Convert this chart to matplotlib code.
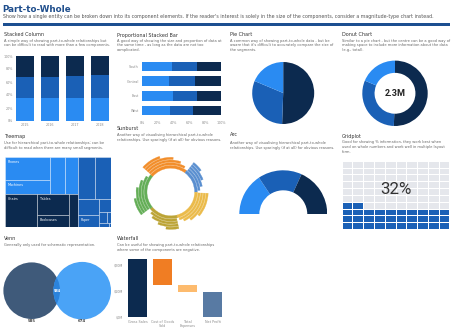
import matplotlib
matplotlib.use('Agg')
import matplotlib.pyplot as plt
import numpy as np
from matplotlib.patches import Wedge, Rectangle, Circle
from matplotlib.colors import ListedColormap

W, H = 474, 329

# ---------------- data ----------------
years = ['2015', '2016', '2017', '2018']
col_light = [36, 35, 36, 36]
col_mid = [31, 33, 34, 35]
col_dark = [33, 32, 30, 29]
pct_ticks = [0, 20, 40, 60, 80, 100]

regions = ['South', 'Central', 'East', 'West']
bar_light = [38, 34, 39, 35]
bar_mid = [32, 33, 30, 30]
bar_dark = [30, 33, 31, 35]

segments = ['Consumer', 'Corporate', 'Home Office']
segment_sales = [1161, 706, 429]
donut_label = '2.3M'

tech_sub = ['Phones', 'Machines', 'Accessories', 'Copiers']
tech_vals = [330, 189, 167, 150]
furn_sub = ['Chairs', 'Tables', 'Bookcases', 'Furnishings']
furn_vals = [328, 207, 115, 92]
office_sub = ['Storage', 'Binders', 'Appliances', 'Paper', 'Supplies', 'Art',
              'Envelopes', 'Labels', 'Fasteners']
office_vals = [224, 203, 107, 78, 47, 27, 16, 12, 3]
treemap_shown = ['Phones', 'Machines', 'Chairs', 'Tables', 'Bookcases', 'Paper']

sun_values = [24, 15, 21, 18, 22]
sun_level1 = [22, 14, 20, 16, 20]
sun_level2 = [19, 12, 18, 14, 17]
sun_level3 = [15, 9, 15, 10, 13]
sun_level4 = [9, 5, 11, 6, 8]

arc_labels = ['Office Supplies', 'Furniture', 'Technology']
arc_vals = [719, 742, 836]

grid_pct = 32

venn_a, venn_b, venn_ab = 585, 674, 584

wf_labels = ['Gross Sales', 'Cost of Goods\nSold', 'Total\nExpenses', 'Net Profit']
wf_steps = [22.3, -10.0, -2.6]
wf_ticks = [0, 10, 20]

SUBTITLE = ("Show how a single entity can be broken down into its component elements. "
            "If the reader's interest is solely in the size of the components, consider a "
            "magnitude-type chart instead.")

# ---------------- styles ----------------
LIGHT = '#2a8bf2'
MID = '#1a60b6'
DARK = '#0c2a4f'
TXT = '#333333'
DESC = '#666666'
TICK = '#8a8a8a'

fig = plt.figure(figsize=(W / 100, H / 100), dpi=100)
fig.patch.set_facecolor('white')
renderer = fig.canvas.get_renderer()


def fit_size(s, target_px, base=5.0, **kw):
    t = fig.text(0, 0, s, fontsize=base, **kw)
    w = t.get_window_extent(renderer).width
    t.remove()
    return base * target_px / w


TITLE_SIZE = fit_size('Part-to-Whole', 69, fontweight='bold')
SUB_SIZE = fit_size(SUBTITLE, 435)
SEC_SIZE = fit_size('Proportional Stacked Bar', 61)
DESC_SIZE = fit_size('A common way of showing part-to-whole data - but be', 101)
TICK_SIZE = fit_size('Gross Sales', 20)
TREE_SIZE = fit_size('Bookcases', 18)
DONUT_SIZE = fit_size(donut_label, 21, fontweight='bold', family='Roboto')
GRID_SIZE = fit_size('32%', 31.5, family='Roboto')
VENN_SIZE = fit_size('585', 8, fontweight='bold')


def ftext(x, y, s, size, color=TXT, weight='normal', ha='left', va='center', family=None):
    kw = {}
    if family:
        kw['family'] = family
    fig.text(x / W, 1 - y / H, s, fontsize=size, color=color, fontweight=weight,
             ha=ha, va=va, **kw)


def pax(x0, y0, x1, y1):
    return fig.add_axes([x0 / W, 1 - y1 / H, (x1 - x0) / W, (y1 - y0) / H])


def section(x, y_title, title, lines, y_desc, spacing):
    ftext(x, y_title, title, SEC_SIZE, color=TXT)
    for i, ln in enumerate(lines):
        ftext(x, y_desc + i * spacing, ln, DESC_SIZE, color=DESC)


# ---------------- header ----------------
ftext(2.7, 10, 'Part-to-Whole', TITLE_SIZE, color='#1f4e8c', weight='bold')
ftext(3, 16.3, SUBTITLE, SUB_SIZE, color='#555555')
fig.add_artist(Rectangle((3 / W, 1 - 26 / H), 447 / W, 3 / H, transform=fig.transFigure,
                         facecolor='#1d4f91', edgecolor='none'))

# ---------------- section texts ----------------
section(4, 35, 'Stacked Column',
        ['A simple way of showing part-to-whole relationships but',
         'can be difficult to read with more than a few components.'], 41.2, 4.2)
section(117, 35, 'Proportional Stacked Bar',
        ['A good way of showing the size and proportion of data at',
         'the same time - as long as the data are not too',
         'complicated.'], 41.2, 4.2)
section(230, 35, 'Pie Chart',
        ['A common way of showing part-to-whole data - but be',
         "aware that it's difficult to accurately compare the size of",
         'the segments.'], 41.2, 4.2)
section(342, 35, 'Donut Chart',
        ['Similar to a pie chart - but the centre can be a good way of',
         'making space to include more information about the data',
         '(e.g., total).'], 41.2, 4.2)
section(4, 137, 'Treemap',
        ['Use for hierarchical part-to-whole relationships; can be',
         'difficult to read when there are many small segments.'], 143, 5.4)
section(117, 128.5, 'Sunburst',
        ['Another way of visualising hierarchical part-to-whole',
         'relationships. Use sparingly (if at all) for obvious reasons.'], 134.7, 5.0)
section(230, 134.5, 'Arc',
        ['Another way of visualising hierarchical part-to-whole',
         'relationships. Use sparingly (if at all) for obvious reasons.'], 142.6, 5.0)
section(342, 136.5, 'Gridplot',
        ['Good for showing % information, they work best when',
         'used on whole numbers and work well in multiple layout',
         'form.'], 142.4, 5.0)
section(4, 238, 'Venn',
        ['Generally only used for schematic representation.'], 244.8, 4.5)
section(117, 238, 'Waterfall',
        ['Can be useful for showing part-to-whole relationships',
         'where some of the components are negative.'], 245.3, 4.5)


def clean(ax):
    for s in ax.spines.values():
        s.set_visible(False)
    ax.tick_params(length=0, labelsize=TICK_SIZE, labelcolor=TICK)


# ---------------- stacked column ----------------
ax = pax(16, 56, 109, 121)
x = np.arange(len(years))
b1 = np.array(col_light)
b2 = b1 + np.array(col_mid)
ax.bar(x, col_light, width=0.72, color=LIGHT)
ax.bar(x, col_mid, width=0.72, bottom=b1, color=MID)
ax.bar(x, col_dark, width=0.72, bottom=b2, color=DARK)
ax.set_xlim(-0.36, 3.36)
ax.set_ylim(0, 100)
ax.set_yticks(pct_ticks)
ax.set_yticklabels([f'{t}%' for t in pct_ticks])
ax.set_xticks(x)
ax.set_xticklabels(years)
clean(ax)
ax.tick_params(axis='y', pad=2.2)
ax.tick_params(axis='x', pad=1.2)

# ---------------- proportional stacked bar ----------------
ax = pax(142, 59, 221, 118)
y = np.arange(len(regions))
p1 = np.array(bar_light)
p2 = p1 + np.array(bar_mid)
ax.barh(y, bar_light, height=0.64, color=LIGHT)
ax.barh(y, bar_mid, height=0.64, left=p1, color=MID)
ax.barh(y, bar_dark, height=0.64, left=p2, color=DARK)
ax.set_ylim(3.5, -0.5)
ax.set_xlim(0, 100)
ax.set_yticks(y)
ax.set_yticklabels(regions)
ax.set_xticks(pct_ticks)
ax.set_xticklabels([f'{t}%' for t in pct_ticks])
clean(ax)
ax.tick_params(axis='y', pad=2.2)
ax.tick_params(axis='x', pad=2.5)

# ---------------- pie ----------------
ax = pax(252.2, 62, 314.2, 124)
ax.pie(segment_sales, colors=[DARK, MID, LIGHT], startangle=90, counterclock=False,
       radius=1, wedgeprops=dict(linewidth=0))
ax.set_xlim(-1, 1)
ax.set_ylim(-1, 1)
ax.set_aspect('equal')

# ---------------- donut ----------------
ax = pax(362.3, 60.6, 427.7, 126)
ax.pie(segment_sales, colors=[DARK, MID, LIGHT], startangle=90, counterclock=False,
       radius=1, wedgeprops=dict(linewidth=0, width=0.375))
ax.set_xlim(-1, 1)
ax.set_ylim(-1, 1)
ax.set_aspect('equal')
ax.text(0, 0, donut_label, ha='center', va='center', fontsize=DONUT_SIZE, fontweight='bold',
        color='#222222', family='Roboto')


# ---------------- treemap ----------------
def strip_layout(vals, x, y, w, h, max_ratio=3.5):
    rects = []
    vals = list(vals)
    i = 0
    while i < len(vals):
        rem_total = sum(vals[i:])
        vertical = w >= h

        def worst(row):
            s = sum(row)
            if vertical:
                cw = s / rem_total * w
                return max(max(cw / (v / s * h), (v / s * h) / cw) for v in row)
            rh = s / rem_total * h
            return max(max(rh / (v / s * w), (v / s * w) / rh) for v in row)

        row = [vals[i]]
        j = i + 1
        while j < len(vals) and worst(row + [vals[j]]) <= max_ratio:
            row.append(vals[j])
            j += 1
        s = sum(row)
        if vertical:
            cw = s / rem_total * w
            yy = y
            for v in row:
                hh = v / s * h
                rects.append((x, yy, cw, hh))
                yy += hh
            x += cw
            w -= cw
        else:
            rh = s / rem_total * h
            xx = x
            for v in row:
                ww = v / s * w
                rects.append((xx, y, ww, rh))
                xx += ww
            y += rh
            h -= rh
        i = j
    return rects


TW, TH = 106, 70.6
ax = pax(5, 156.7, 5 + TW, 156.7 + TH)
ax.set_xlim(0, TW)
ax.set_ylim(TH, 0)
ax.axis('off')
groups = [(tech_sub, tech_vals, LIGHT), (furn_sub, furn_vals, DARK), (office_sub, office_vals, MID)]
top_rects = strip_layout([sum(g[1]) for g in groups], 0, 0, TW, TH)
for (names, vals, colr), (gx, gy, gw, gh) in zip(groups, top_rects):
    for name, (rx, ry, rw, rh) in zip(names, strip_layout(vals, gx, gy, gw, gh)):
        ax.add_patch(Rectangle((rx, ry), rw, rh, facecolor=colr,
                               edgecolor=(1, 1, 1, 0.55), linewidth=0.45))
        if name in treemap_shown:
            ax.text(rx + 2.3, ry + 5.0, name, color='white', fontsize=TREE_SIZE, va='center')

# ---------------- sunburst ----------------
SR = 45
ax = pax(170.8 - SR, 192 - SR, 170.8 + SR, 192 + SR)
ax.set_xlim(-SR, SR)
ax.set_ylim(-SR, SR)
ax.set_aspect('equal')
ax.axis('off')
sun_colors = ['#f28e2b', '#5a8fd0', '#ebbb4b', '#bca436', '#64ae57']
start = 140.0
k = 360.0 / sum(sun_values)
cum = np.concatenate([[0], np.cumsum(sun_values)])
levels = [sun_values, sun_level1, sun_level2, sun_level3, sun_level4]
radii = [26.6, 29.3, 32.0, 34.7, 37.4]
widths = [2.8, 2.2, 2.2, 2.2, 2.2]
for li, lv in enumerate(levels):
    for ci, cover in enumerate(lv):
        t2 = start - cum[ci] * k - (0 if li == 0 else 1.5)
        t1 = start - cum[ci] * k - cover * k
        ax.add_patch(Wedge((0, 0), radii[li], t1, t2, width=widths[li],
                           facecolor=sun_colors[ci], edgecolor=sun_colors[ci],
                           linewidth=0.2))

# ---------------- arc ----------------
ax = pax(239.3, 170.3, 327.3, 214.3)
ax.set_xlim(-1, 1)
ax.set_ylim(0, 1)
ax.set_aspect('equal')
ax.axis('off')
acum = np.concatenate([[0], np.cumsum(arc_vals)]) / sum(arc_vals) * 180.0
for i, colr in enumerate([LIGHT, MID, DARK]):
    ax.add_patch(Wedge((0, 0), 1, 180 - acum[i + 1], 180 - acum[i], width=0.455,
                       facecolor=colr, edgecolor='none'))

# ---------------- gridplot ----------------
ax = pax(341.7, 160.7, 449.3, 229)
rows, cols = np.mgrid[0:10, 0:10]
filled = (rows * 10 + cols) < grid_pct
ax.pcolormesh(np.arange(11), np.arange(11), filled.astype(int),
              cmap=ListedColormap(['#e5e7ec', MID]), edgecolors='white', linewidth=0.5,
              vmin=0, vmax=1)
ax.set_xlim(0, 10)
ax.set_ylim(0, 10)
ax.axis('off')
ftext(395.5, 190, f'{grid_pct}%', GRID_SIZE, color='#333333', ha='center', family='Roboto')

# ---------------- venn ----------------
ax = pax(0, 255, 115, 328)
ax.set_xlim(0, 115)
ax.set_ylim(328, 255)
ax.set_aspect('equal')
ax.axis('off')
cA = Circle((31.7, 290.7), 28.3, facecolor='#3f5a7a', edgecolor='none')
cB = Circle((82.2, 290.7), 28.8, facecolor='#4aa3f6', edgecolor='none')
ax.add_patch(cA)
ax.add_patch(cB)
cI = Circle((82.2, 290.7), 28.8, facecolor='#2b83dc', edgecolor='none')
ax.add_patch(cI)
cI.set_clip_path(cA)
ax.text(57.0, 290.7, str(venn_ab), color='white', fontsize=VENN_SIZE * 0.9, ha='center',
        va='center', fontweight='bold')
ax.text(31.7, 321, str(venn_a), color='#444444', fontsize=VENN_SIZE, ha='center',
        va='center', fontweight='bold')
ax.text(82.2, 321, str(venn_b), color='#444444', fontsize=VENN_SIZE, ha='center',
        va='center', fontweight='bold')

# ---------------- waterfall ----------------
ax = pax(125, 255, 225, 316.7)
levels_cum = np.concatenate([[0], np.cumsum(wf_steps)])
wf_bottoms = [0]
wf_heights = [wf_steps[0]]
for i in range(1, len(wf_steps)):
    lo = min(levels_cum[i], levels_cum[i + 1])
    wf_bottoms.append(lo)
    wf_heights.append(abs(wf_steps[i]))
wf_bottoms.append(0)
wf_heights.append(levels_cum[-1])
ax.bar(np.arange(4), wf_heights, bottom=wf_bottoms, width=0.76,
       color=['#0c2a4f', '#f07d23', '#fdbb6e', '#587aa3'])
ax.set_xlim(-0.5, 3.5)
ax.set_ylim(0, 23.9)
ax.set_yticks(wf_ticks)
ax.set_yticklabels([f'${t}M' for t in wf_ticks])
ax.set_xticks(np.arange(4))
ax.set_xticklabels(wf_labels, linespacing=1.2)
clean(ax)
ax.tick_params(axis='y', pad=1.2)
ax.tick_params(axis='x', pad=2.2)

fig.savefig('out.png', dpi=100, facecolor='white')
